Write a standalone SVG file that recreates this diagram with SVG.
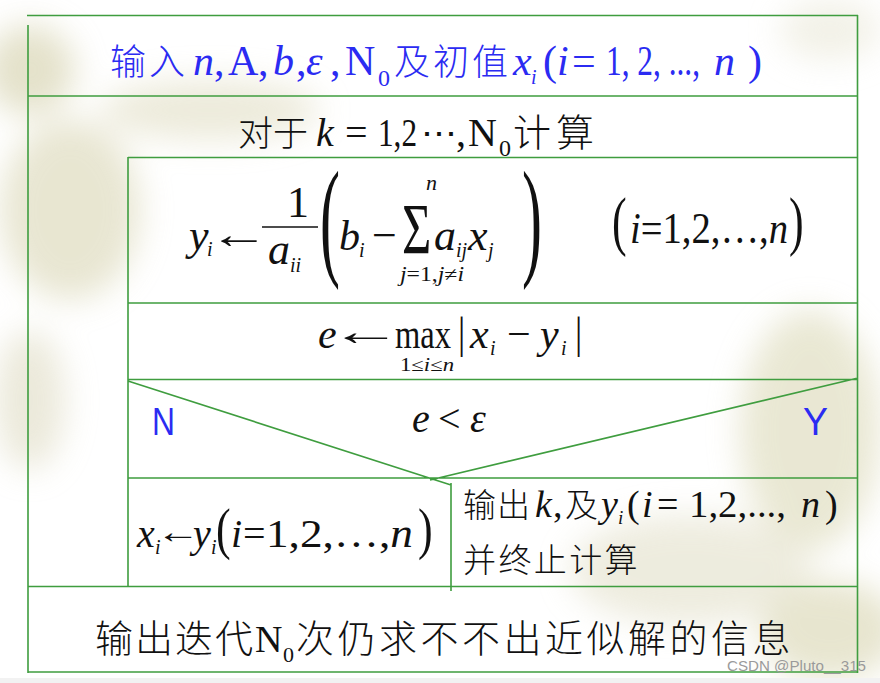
<svg xmlns="http://www.w3.org/2000/svg" width="880" height="683" viewBox="0 0 880 683">
<defs>
<filter id="soft" x="-50%" y="-50%" width="200%" height="200%"><feGaussianBlur stdDeviation="16"/></filter>
</defs>
<style>
.ln{stroke:#3f9d3f;stroke-width:1.6;fill:none}
.m{font-family:"Liberation Serif","Times New Roman",serif;font-style:italic}
.r{font-family:"Liberation Serif","Times New Roman",serif;font-style:normal}
.c{font-family:"Noto Sans CJK SC","Noto Sans CJK JP",sans-serif;font-weight:300}
.s{font-family:"Liberation Sans",Arial,sans-serif}
text{fill:#111}
.blue text,.blue tspan,text.blue{fill:#2b2bf2}
</style>
<rect width="880" height="683" fill="#ffffff"/>
<g id="background" filter="url(#soft)" opacity="0.55">
<ellipse cx="30" cy="70" rx="45" ry="45" fill="#cfcaa0"/>
<ellipse cx="70" cy="210" rx="70" ry="90" fill="#d6d2ad"/>
<ellipse cx="210" cy="110" rx="110" ry="30" fill="#dedabd"/>
<ellipse cx="30" cy="400" rx="35" ry="70" fill="#dcd8bd"/>
<ellipse cx="810" cy="430" rx="70" ry="120" fill="#d8d5b0"/>
<ellipse cx="690" cy="570" rx="120" ry="55" fill="#e0ddc4"/>
<ellipse cx="830" cy="630" rx="70" ry="50" fill="#d4d0a8"/>
<ellipse cx="830" cy="30" rx="50" ry="30" fill="#e8e6d4"/>
</g>
<rect x="0" y="678" width="880" height="5" fill="#f2f2f2"/>

<g id="connectors" class="ln">
<path d="M27 15.5H858 M28 25V673 M857.5 15V673 M28 96H858 M128 157.5H858 M128 157V587 M128 303H858 M128 379.5H858 M128 381L451 485 M858 378L430 480 M128 478H858 M451 483V591 M28 586.5H858 M28 672H858"/>
</g>

<g id="node-input" class="blue">
<text y="75" font-size="42">
<tspan class="c" x="110" font-size="36" letter-spacing="3">输入</tspan><tspan class="m" x="193">n</tspan><tspan class="r" x="214">,</tspan><tspan class="r" x="228">A</tspan><tspan class="r" x="258">,</tspan><tspan class="m" x="273">b</tspan><tspan class="r" x="296">,</tspan><tspan class="m" x="306">ε</tspan><tspan class="r" x="330">,</tspan><tspan class="r" x="345">N</tspan><tspan class="r" x="378" y="86" font-size="24">0</tspan><tspan class="c" x="394" y="75" font-size="36" letter-spacing="3">及初值</tspan><tspan class="m" x="513">x</tspan><tspan class="m" x="531" y="84" font-size="20">i</tspan><tspan class="r" x="543" y="75">(</tspan><tspan class="m" x="557">i</tspan><tspan class="r" x="572">=</tspan><tspan class="m" x="714">n</tspan><tspan class="r" x="748">)</tspan>
</text>
<text class="r" x="606" y="75" font-size="42" textLength="94" lengthAdjust="spacingAndGlyphs">1, 2, ...,</text>
</g>

<g id="node-loop">
<text y="146" font-size="40">
<tspan class="c" x="238" font-size="35">对于</tspan><tspan class="m" x="316">k</tspan><tspan class="r" x="345">=</tspan><tspan class="r" x="421" font-size="36">⋯</tspan><tspan class="r" x="456">,</tspan><tspan class="r" x="468">N</tspan><tspan class="r" x="499" y="156" font-size="24">0</tspan><tspan class="c" x="513" y="146" font-size="38" letter-spacing="5">计算</tspan>
</text>
<text class="r" x="378" y="146" font-size="40" textLength="39" lengthAdjust="spacingAndGlyphs">1,2</text>
</g>

<g id="node-update">
<text font-size="44">
<tspan class="m" x="189" y="250">y</tspan><tspan class="m" x="207" y="256" font-size="20">i</tspan>
<tspan class="r" x="287" y="217">1</tspan>
<tspan class="m" x="268" y="264">a</tspan><tspan class="m" x="290" y="272" font-size="20">ii</tspan>
<tspan class="m" x="339" y="250" font-size="42">b</tspan><tspan class="m" x="359" y="257" font-size="20">i</tspan>
<tspan class="r" x="372" y="250">−</tspan>
<tspan class="m" x="426" y="190" font-size="22">n</tspan>
<tspan class="m" x="434" y="250">a</tspan><tspan class="m" x="456" y="257" font-size="20">ij</tspan>
<tspan class="m" x="468" y="250">x</tspan><tspan class="m" x="488" y="257" font-size="20">j</tspan>
</text>
<text font-size="20" x="400" y="281" textLength="64" lengthAdjust="spacingAndGlyphs"><tspan class="m">j</tspan><tspan class="r">=1,</tspan><tspan class="m">j</tspan><tspan class="r">≠</tspan><tspan class="m">i</tspan></text>
<text class="r" font-size="72" transform="translate(402 253) scale(0.7 1)">Σ</text>
<text class="r" font-size="40" transform="translate(209 248) scale(1.5 1)">←</text>
<line x1="262" y1="227" x2="318" y2="227" stroke="#111" stroke-width="1.6"/>
<text class="r" font-size="60" transform="translate(320 262) scale(1 2.2)">(</text>
<text class="r" font-size="60" transform="translate(522 262) scale(1 2.2)">)</text>
<text class="r" font-size="44" transform="translate(612 243) scale(1 1.5)">(</text>
<text font-size="44" x="630" y="243" textLength="158" lengthAdjust="spacingAndGlyphs"><tspan class="m">i</tspan><tspan class="r">=1,2,…,</tspan><tspan class="m">n</tspan></text>
<text class="r" font-size="44" transform="translate(789 243) scale(1 1.5)">)</text>
</g>

<g id="node-error">
<text font-size="42">
<tspan class="m" x="318" y="348">e</tspan>
<tspan class="m" x="470" y="348">x</tspan><tspan class="m" x="490" y="355" font-size="20">i</tspan>
<tspan class="r" x="507" y="348">−</tspan>
<tspan class="m" x="540" y="348">y</tspan><tspan class="m" x="561" y="355" font-size="20">i</tspan>
</text>
<text class="r" x="395" y="348" font-size="42" textLength="56" lengthAdjust="spacingAndGlyphs">max</text>
<text font-size="18" x="400" y="371" textLength="54" lengthAdjust="spacingAndGlyphs"><tspan class="r">1≤</tspan><tspan class="m">i</tspan><tspan class="r">≤</tspan><tspan class="m">n</tspan></text>
<text class="r" font-size="40" transform="translate(330 345) scale(1.8 1)">←</text>
<text class="r" font-size="36" transform="translate(458 348) scale(1 1.25)">|</text>
<text class="r" font-size="36" transform="translate(575 348) scale(1 1.25)">|</text>
</g>

<g id="node-decision">
<text class="s blue" x="152" y="435" font-size="38" textLength="23" lengthAdjust="spacingAndGlyphs">N</text>
<text class="s blue" x="803" y="435" font-size="38" textLength="25" lengthAdjust="spacingAndGlyphs">Y</text>
<text font-size="40"><tspan class="m" x="412" y="432">e</tspan><tspan class="r" x="438" y="432">&lt;</tspan><tspan class="m" x="470" y="432">ε</tspan></text>
</g>

<g id="node-no">
<text font-size="40">
<tspan class="m" x="137" y="547">x</tspan><tspan class="m" x="155" y="554" font-size="20">i</tspan>
<tspan class="m" x="193" y="547">y</tspan><tspan class="m" x="211" y="554" font-size="20">i</tspan>
<tspan class="m" x="231" y="547">i</tspan><tspan class="r" x="243" y="547">=</tspan>
</text>
<text font-size="40" x="266" y="547" textLength="147" lengthAdjust="spacingAndGlyphs"><tspan class="r">1,2,…,</tspan><tspan class="m">n</tspan></text>
<text class="r" font-size="34" transform="translate(156 543) scale(1.3 1)">←</text>
<text class="r" font-size="44" transform="translate(216 548) scale(1 1.3)">(</text>
<text class="r" font-size="44" transform="translate(418 548) scale(1 1.3)">)</text>
</g>

<g id="node-yes">
<text y="517" font-size="38">
<tspan class="c" x="463" font-size="33" letter-spacing="1">输出</tspan><tspan class="m" x="535">k</tspan><tspan class="r" x="553">,</tspan><tspan class="c" x="565" font-size="33">及</tspan><tspan class="m" x="601">y</tspan><tspan class="m" x="618" y="524" font-size="19">i</tspan><tspan class="r" x="627" y="517">(</tspan><tspan class="m" x="642">i</tspan><tspan class="r" x="657">=</tspan><tspan class="m" x="801">n</tspan><tspan class="r" x="825">)</tspan>
</text>
<text class="r" x="689" y="517" font-size="38" textLength="97" lengthAdjust="spacingAndGlyphs">1,2,...,</text>
<text class="c" x="463" y="572" font-size="33" letter-spacing="2.4">并终止计算</text>
</g>

<g id="node-fail">
<text y="652" font-size="38">
<tspan class="c" x="95" letter-spacing="2">输出迭代</tspan><tspan class="r" x="255">N</tspan><tspan class="r" x="283" y="662" font-size="22">0</tspan><tspan class="c" x="296" y="652" letter-spacing="3.5">次仍求不不出近似解的信息</tspan>
</text>
</g>

<text class="s" x="727" y="671" font-size="15" style="fill:#9a9a9a" textLength="139" lengthAdjust="spacingAndGlyphs">CSDN @Pluto__315</text>
</svg>
